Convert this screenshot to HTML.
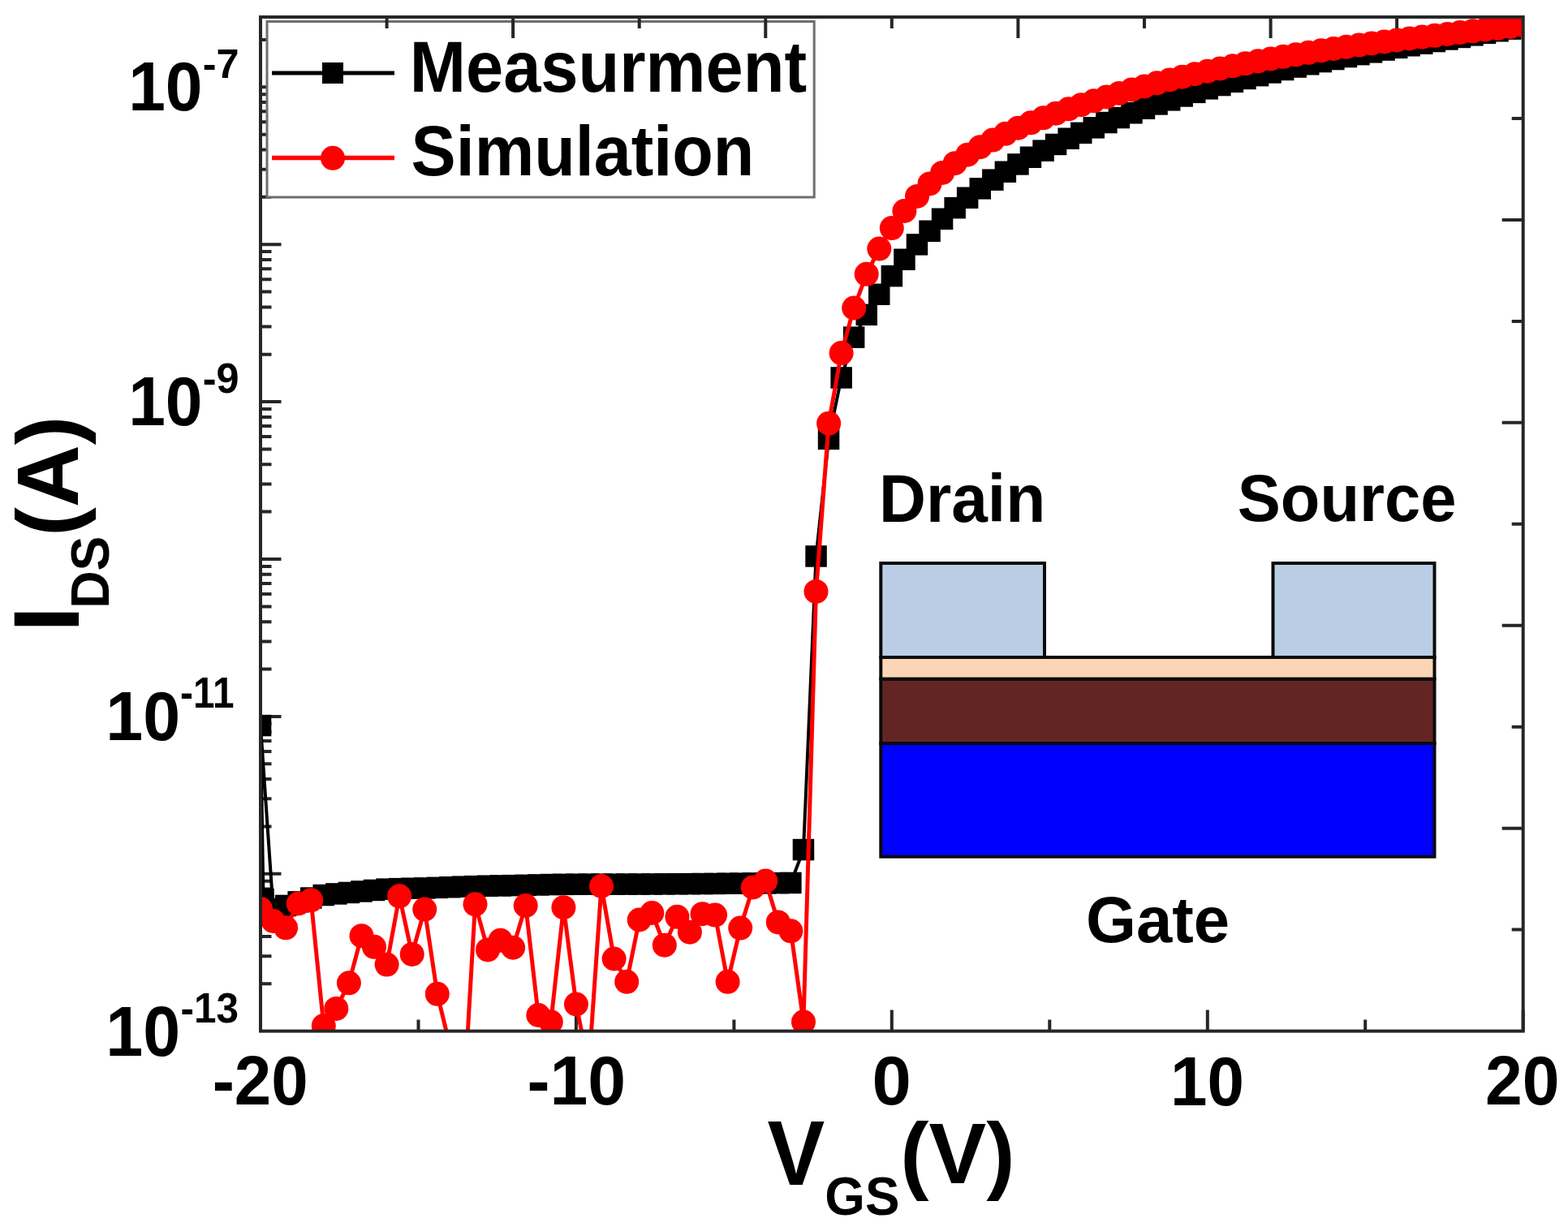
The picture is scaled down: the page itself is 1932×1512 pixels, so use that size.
<!DOCTYPE html>
<html><head><meta charset="utf-8"><title>IDS-VGS transfer characteristics</title>
<style>html,body{margin:0;padding:0;background:#fff;}svg{display:block;}</style></head>
<body>
<svg width="1932" height="1512" viewBox="0 0 1932 1512">
<rect width="1932" height="1512" fill="#fff"/>
<defs><clipPath id="pc"><rect x="321.0" y="21.0" width="1555.7" height="1249.6"/></clipPath></defs>
<path d="M321.0 1270.6V1244.6 M515.5 1270.6V1256.6 M709.9 1270.6V1244.6 M904.4 1270.6V1256.6 M1098.8 1270.6V1244.6 M1293.3 1270.6V1256.6 M1487.8 1270.6V1244.6 M1682.2 1270.6V1256.6 M1876.7 1270.6V1244.6 M321.0 1212.3H334.5 M321.0 1178.2H334.5 M321.0 1154.0H334.5 M321.0 1135.2H334.5 M321.0 1119.8H334.5 M321.0 1106.8H334.5 M321.0 1095.6H334.5 M321.0 1085.7H334.5 M321.0 1076.8H346.5 M321.0 1018.4H334.5 M321.0 984.3H334.5 M321.0 960.1H334.5 M321.0 941.3H334.5 M321.0 925.9H334.5 M321.0 912.9H334.5 M321.0 901.7H334.5 M321.0 891.8H334.5 M321.0 882.9H346.5 M321.0 824.5H334.5 M321.0 790.4H334.5 M321.0 766.2H334.5 M321.0 747.4H334.5 M321.0 732.0H334.5 M321.0 719.0H334.5 M321.0 707.8H334.5 M321.0 697.9H334.5 M321.0 689.0H346.5 M321.0 630.6H334.5 M321.0 596.5H334.5 M321.0 572.3H334.5 M321.0 553.5H334.5 M321.0 538.1H334.5 M321.0 525.1H334.5 M321.0 513.9H334.5 M321.0 504.0H334.5 M321.0 495.1H346.5 M321.0 436.7H334.5 M321.0 402.6H334.5 M321.0 378.4H334.5 M321.0 359.6H334.5 M321.0 344.2H334.5 M321.0 331.2H334.5 M321.0 320.0H334.5 M321.0 310.1H334.5 M321.0 301.2H346.5 M321.0 242.8H334.5 M321.0 208.7H334.5 M321.0 184.5H334.5 M321.0 165.7H334.5 M321.0 150.3H334.5 M321.0 137.3H334.5 M321.0 126.1H334.5 M321.0 116.2H334.5 M321.0 107.3H346.5 M321.0 48.9H334.5" stroke="#262626" stroke-width="4" fill="none"/>
<g clip-path="url(#pc)">
<polyline points="324.5,1108.0 321.0,894.0 336.6,1120.0 352.1,1116.0 367.7,1111.3 383.2,1106.6 398.8,1103.0 414.3,1101.5 429.9,1100.0 445.5,1098.5 461.0,1096.9 476.6,1095.7 492.1,1095.1 507.7,1094.8 523.2,1094.4 538.8,1093.8 554.4,1093.2 569.9,1092.6 585.5,1092.2 601.0,1091.8 616.6,1091.5 632.1,1091.2 647.7,1090.8 663.3,1090.4 678.8,1090.1 694.4,1089.8 709.9,1089.8 725.5,1089.7 741.0,1089.7 756.6,1089.6 772.2,1089.6 787.7,1089.5 803.3,1089.5 818.8,1089.4 834.4,1089.3 849.9,1089.2 865.5,1089.0 881.1,1088.9 896.6,1088.8 912.2,1088.6 927.7,1088.5 943.3,1088.3 958.8,1088.2 974.4,1088.0 990.0,1047.0 1005.5,685.5 1021.1,540.9 1036.6,465.5 1052.2,415.6 1067.7,387.9 1083.3,362.8 1098.8,340.1 1114.4,319.7 1130.0,301.3 1145.5,284.7 1161.1,269.7 1176.6,256.1 1192.2,243.7 1207.7,232.3 1223.3,221.7 1238.9,211.7 1254.4,202.4 1270.0,193.7 1285.5,185.6 1301.1,177.9 1316.6,170.7 1332.2,163.9 1347.8,157.3 1363.3,151.0 1378.9,145.0 1394.4,139.3 1410.0,133.7 1425.5,128.4 1441.1,123.3 1456.7,118.5 1472.2,113.8 1487.8,109.3 1503.3,105.0 1518.9,100.9 1534.4,96.9 1550.0,93.1 1565.6,89.5 1581.1,85.9 1596.7,82.5 1612.2,79.3 1627.8,76.1 1643.3,73.0 1658.9,70.1 1674.5,67.2 1690.0,64.3 1705.6,61.6 1721.1,58.9 1736.7,56.2 1752.2,53.6 1767.8,51.1 1783.4,48.5 1798.9,45.9 1814.5,43.4 1830.0,40.8 1845.6,38.3 1861.1,35.7 1876.7,33.0" fill="none" stroke="#000" stroke-width="4" stroke-linejoin="round"/>
<g fill="#000"><rect x="311.2" y="1094.8" width="26.5" height="26.5"/><rect x="307.8" y="880.8" width="26.5" height="26.5"/><rect x="323.3" y="1106.8" width="26.5" height="26.5"/><rect x="338.9" y="1102.7" width="26.5" height="26.5"/><rect x="354.4" y="1098.1" width="26.5" height="26.5"/><rect x="370.0" y="1093.3" width="26.5" height="26.5"/><rect x="385.5" y="1089.8" width="26.5" height="26.5"/><rect x="401.1" y="1088.2" width="26.5" height="26.5"/><rect x="416.6" y="1086.7" width="26.5" height="26.5"/><rect x="432.2" y="1085.2" width="26.5" height="26.5"/><rect x="447.8" y="1083.7" width="26.5" height="26.5"/><rect x="463.3" y="1082.4" width="26.5" height="26.5"/><rect x="478.9" y="1081.9" width="26.5" height="26.5"/><rect x="494.4" y="1081.5" width="26.5" height="26.5"/><rect x="510.0" y="1081.2" width="26.5" height="26.5"/><rect x="525.5" y="1080.6" width="26.5" height="26.5"/><rect x="541.1" y="1080.0" width="26.5" height="26.5"/><rect x="556.7" y="1079.4" width="26.5" height="26.5"/><rect x="572.2" y="1078.9" width="26.5" height="26.5"/><rect x="587.8" y="1078.5" width="26.5" height="26.5"/><rect x="603.3" y="1078.2" width="26.5" height="26.5"/><rect x="618.9" y="1077.9" width="26.5" height="26.5"/><rect x="634.4" y="1077.6" width="26.5" height="26.5"/><rect x="650.0" y="1077.2" width="26.5" height="26.5"/><rect x="665.6" y="1076.8" width="26.5" height="26.5"/><rect x="681.1" y="1076.6" width="26.5" height="26.5"/><rect x="696.7" y="1076.5" width="26.5" height="26.5"/><rect x="712.2" y="1076.4" width="26.5" height="26.5"/><rect x="727.8" y="1076.4" width="26.5" height="26.5"/><rect x="743.3" y="1076.4" width="26.5" height="26.5"/><rect x="758.9" y="1076.3" width="26.5" height="26.5"/><rect x="774.5" y="1076.3" width="26.5" height="26.5"/><rect x="790.0" y="1076.2" width="26.5" height="26.5"/><rect x="805.6" y="1076.1" width="26.5" height="26.5"/><rect x="821.1" y="1076.0" width="26.5" height="26.5"/><rect x="836.7" y="1075.9" width="26.5" height="26.5"/><rect x="852.2" y="1075.8" width="26.5" height="26.5"/><rect x="867.8" y="1075.7" width="26.5" height="26.5"/><rect x="883.4" y="1075.5" width="26.5" height="26.5"/><rect x="898.9" y="1075.4" width="26.5" height="26.5"/><rect x="914.5" y="1075.2" width="26.5" height="26.5"/><rect x="930.0" y="1075.1" width="26.5" height="26.5"/><rect x="945.6" y="1074.9" width="26.5" height="26.5"/><rect x="961.1" y="1074.7" width="26.5" height="26.5"/><rect x="976.7" y="1033.8" width="26.5" height="26.5"/><rect x="992.3" y="672.2" width="26.5" height="26.5"/><rect x="1007.8" y="527.6" width="26.5" height="26.5"/><rect x="1023.4" y="452.2" width="26.5" height="26.5"/><rect x="1038.9" y="402.4" width="26.5" height="26.5"/><rect x="1054.5" y="374.6" width="26.5" height="26.5"/><rect x="1070.0" y="349.5" width="26.5" height="26.5"/><rect x="1085.6" y="326.9" width="26.5" height="26.5"/><rect x="1101.2" y="306.5" width="26.5" height="26.5"/><rect x="1116.7" y="288.1" width="26.5" height="26.5"/><rect x="1132.3" y="271.5" width="26.5" height="26.5"/><rect x="1147.8" y="256.5" width="26.5" height="26.5"/><rect x="1163.4" y="242.9" width="26.5" height="26.5"/><rect x="1178.9" y="230.5" width="26.5" height="26.5"/><rect x="1194.5" y="219.1" width="26.5" height="26.5"/><rect x="1210.1" y="208.4" width="26.5" height="26.5"/><rect x="1225.6" y="198.5" width="26.5" height="26.5"/><rect x="1241.2" y="189.2" width="26.5" height="26.5"/><rect x="1256.7" y="180.5" width="26.5" height="26.5"/><rect x="1272.3" y="172.4" width="26.5" height="26.5"/><rect x="1287.8" y="164.7" width="26.5" height="26.5"/><rect x="1303.4" y="157.5" width="26.5" height="26.5"/><rect x="1319.0" y="150.6" width="26.5" height="26.5"/><rect x="1334.5" y="144.1" width="26.5" height="26.5"/><rect x="1350.1" y="137.8" width="26.5" height="26.5"/><rect x="1365.6" y="131.8" width="26.5" height="26.5"/><rect x="1381.2" y="126.0" width="26.5" height="26.5"/><rect x="1396.7" y="120.5" width="26.5" height="26.5"/><rect x="1412.3" y="115.2" width="26.5" height="26.5"/><rect x="1427.9" y="110.1" width="26.5" height="26.5"/><rect x="1443.4" y="105.2" width="26.5" height="26.5"/><rect x="1459.0" y="100.6" width="26.5" height="26.5"/><rect x="1474.5" y="96.1" width="26.5" height="26.5"/><rect x="1490.1" y="91.8" width="26.5" height="26.5"/><rect x="1505.6" y="87.6" width="26.5" height="26.5"/><rect x="1521.2" y="83.7" width="26.5" height="26.5"/><rect x="1536.8" y="79.9" width="26.5" height="26.5"/><rect x="1552.3" y="76.2" width="26.5" height="26.5"/><rect x="1567.9" y="72.7" width="26.5" height="26.5"/><rect x="1583.4" y="69.3" width="26.5" height="26.5"/><rect x="1599.0" y="66.0" width="26.5" height="26.5"/><rect x="1614.5" y="62.8" width="26.5" height="26.5"/><rect x="1630.1" y="59.8" width="26.5" height="26.5"/><rect x="1645.7" y="56.8" width="26.5" height="26.5"/><rect x="1661.2" y="53.9" width="26.5" height="26.5"/><rect x="1676.8" y="51.1" width="26.5" height="26.5"/><rect x="1692.3" y="48.3" width="26.5" height="26.5"/><rect x="1707.9" y="45.6" width="26.5" height="26.5"/><rect x="1723.4" y="43.0" width="26.5" height="26.5"/><rect x="1739.0" y="40.4" width="26.5" height="26.5"/><rect x="1754.6" y="37.8" width="26.5" height="26.5"/><rect x="1770.1" y="35.2" width="26.5" height="26.5"/><rect x="1785.7" y="32.7" width="26.5" height="26.5"/><rect x="1801.2" y="30.1" width="26.5" height="26.5"/><rect x="1816.8" y="27.6" width="26.5" height="26.5"/><rect x="1832.3" y="25.0" width="26.5" height="26.5"/><rect x="1847.9" y="22.4" width="26.5" height="26.5"/><rect x="1863.5" y="19.8" width="26.5" height="26.5"/></g>
<polyline points="321.0,1120.0 336.6,1135.0 352.1,1143.3 367.7,1113.5 383.2,1109.3 398.8,1264.0 414.3,1242.9 429.9,1211.3 445.5,1153.2 461.0,1166.8 476.6,1188.6 492.1,1104.3 507.7,1175.9 523.2,1120.6 538.8,1224.8 554.4,1289.0 569.9,1382.0 585.5,1114.3 601.0,1170.4 616.6,1158.7 632.1,1167.7 647.7,1116.0 663.3,1251.0 678.8,1259.3 694.4,1118.2 709.9,1237.5 725.5,1315.0 741.0,1092.0 756.6,1181.5 772.2,1209.8 787.7,1133.5 803.3,1125.0 818.8,1164.7 834.4,1129.8 849.9,1148.7 865.5,1126.2 881.1,1127.6 896.6,1209.8 912.2,1143.6 927.7,1093.5 943.3,1085.5 958.8,1136.4 974.4,1147.3 990.0,1259.3 1005.5,728.9 1021.1,521.7 1036.6,435.1 1052.2,379.5 1067.7,337.8 1083.3,306.6 1098.8,281.1 1114.4,260.0 1130.0,241.9 1145.5,226.4 1161.1,212.9 1176.6,201.2 1192.2,190.7 1207.7,181.2 1223.3,172.6 1238.9,164.8 1254.4,157.7 1270.0,151.3 1285.5,145.3 1301.1,139.7 1316.6,134.3 1332.2,129.2 1347.8,124.3 1363.3,119.5 1378.9,115.0 1394.4,110.6 1410.0,106.4 1425.5,102.3 1441.1,98.5 1456.7,94.7 1472.2,91.2 1487.8,87.7 1503.3,84.5 1518.9,81.3 1534.4,78.3 1550.0,75.3 1565.6,72.5 1581.1,69.8 1596.7,67.3 1612.2,64.8 1627.8,62.3 1643.3,60.0 1658.9,57.8 1674.5,55.6 1690.0,53.5 1705.6,51.5 1721.1,49.5 1736.7,47.5 1752.2,45.6 1767.8,43.8 1783.4,41.9 1798.9,40.1 1814.5,38.3 1830.0,36.5 1845.6,34.8 1861.1,33.0 1876.7,31.2" fill="none" stroke="#ff0000" stroke-width="5" stroke-linejoin="round"/>
<g fill="#ff0000"><circle cx="321.0" cy="1120.0" r="15.0"/><circle cx="336.6" cy="1135.0" r="15.0"/><circle cx="352.1" cy="1143.3" r="15.0"/><circle cx="367.7" cy="1113.5" r="15.0"/><circle cx="383.2" cy="1109.3" r="15.0"/><circle cx="398.8" cy="1264.0" r="15.0"/><circle cx="414.3" cy="1242.9" r="15.0"/><circle cx="429.9" cy="1211.3" r="15.0"/><circle cx="445.5" cy="1153.2" r="15.0"/><circle cx="461.0" cy="1166.8" r="15.0"/><circle cx="476.6" cy="1188.6" r="15.0"/><circle cx="492.1" cy="1104.3" r="15.0"/><circle cx="507.7" cy="1175.9" r="15.0"/><circle cx="523.2" cy="1120.6" r="15.0"/><circle cx="538.8" cy="1224.8" r="15.0"/><circle cx="554.4" cy="1289.0" r="15.0"/><circle cx="569.9" cy="1382.0" r="15.0"/><circle cx="585.5" cy="1114.3" r="15.0"/><circle cx="601.0" cy="1170.4" r="15.0"/><circle cx="616.6" cy="1158.7" r="15.0"/><circle cx="632.1" cy="1167.7" r="15.0"/><circle cx="647.7" cy="1116.0" r="15.0"/><circle cx="663.3" cy="1251.0" r="15.0"/><circle cx="678.8" cy="1259.3" r="15.0"/><circle cx="694.4" cy="1118.2" r="15.0"/><circle cx="709.9" cy="1237.5" r="15.0"/><circle cx="725.5" cy="1315.0" r="15.0"/><circle cx="741.0" cy="1092.0" r="15.0"/><circle cx="756.6" cy="1181.5" r="15.0"/><circle cx="772.2" cy="1209.8" r="15.0"/><circle cx="787.7" cy="1133.5" r="15.0"/><circle cx="803.3" cy="1125.0" r="15.0"/><circle cx="818.8" cy="1164.7" r="15.0"/><circle cx="834.4" cy="1129.8" r="15.0"/><circle cx="849.9" cy="1148.7" r="15.0"/><circle cx="865.5" cy="1126.2" r="15.0"/><circle cx="881.1" cy="1127.6" r="15.0"/><circle cx="896.6" cy="1209.8" r="15.0"/><circle cx="912.2" cy="1143.6" r="15.0"/><circle cx="927.7" cy="1093.5" r="15.0"/><circle cx="943.3" cy="1085.5" r="15.0"/><circle cx="958.8" cy="1136.4" r="15.0"/><circle cx="974.4" cy="1147.3" r="15.0"/><circle cx="990.0" cy="1259.3" r="15.0"/><circle cx="1005.5" cy="728.9" r="15.0"/><circle cx="1021.1" cy="521.7" r="15.0"/><circle cx="1036.6" cy="435.1" r="15.0"/><circle cx="1052.2" cy="379.5" r="15.0"/><circle cx="1067.7" cy="337.8" r="15.0"/><circle cx="1083.3" cy="306.6" r="15.0"/><circle cx="1098.8" cy="281.1" r="15.0"/><circle cx="1114.4" cy="260.0" r="15.0"/><circle cx="1130.0" cy="241.9" r="15.0"/><circle cx="1145.5" cy="226.4" r="15.0"/><circle cx="1161.1" cy="212.9" r="15.0"/><circle cx="1176.6" cy="201.2" r="15.0"/><circle cx="1192.2" cy="190.7" r="15.0"/><circle cx="1207.7" cy="181.2" r="15.0"/><circle cx="1223.3" cy="172.6" r="15.0"/><circle cx="1238.9" cy="164.8" r="15.0"/><circle cx="1254.4" cy="157.7" r="15.0"/><circle cx="1270.0" cy="151.3" r="15.0"/><circle cx="1285.5" cy="145.3" r="15.0"/><circle cx="1301.1" cy="139.7" r="15.0"/><circle cx="1316.6" cy="134.3" r="15.0"/><circle cx="1332.2" cy="129.2" r="15.0"/><circle cx="1347.8" cy="124.3" r="15.0"/><circle cx="1363.3" cy="119.5" r="15.0"/><circle cx="1378.9" cy="115.0" r="15.0"/><circle cx="1394.4" cy="110.6" r="15.0"/><circle cx="1410.0" cy="106.4" r="15.0"/><circle cx="1425.5" cy="102.3" r="15.0"/><circle cx="1441.1" cy="98.5" r="15.0"/><circle cx="1456.7" cy="94.7" r="15.0"/><circle cx="1472.2" cy="91.2" r="15.0"/><circle cx="1487.8" cy="87.7" r="15.0"/><circle cx="1503.3" cy="84.5" r="15.0"/><circle cx="1518.9" cy="81.3" r="15.0"/><circle cx="1534.4" cy="78.3" r="15.0"/><circle cx="1550.0" cy="75.3" r="15.0"/><circle cx="1565.6" cy="72.5" r="15.0"/><circle cx="1581.1" cy="69.8" r="15.0"/><circle cx="1596.7" cy="67.3" r="15.0"/><circle cx="1612.2" cy="64.8" r="15.0"/><circle cx="1627.8" cy="62.3" r="15.0"/><circle cx="1643.3" cy="60.0" r="15.0"/><circle cx="1658.9" cy="57.8" r="15.0"/><circle cx="1674.5" cy="55.6" r="15.0"/><circle cx="1690.0" cy="53.5" r="15.0"/><circle cx="1705.6" cy="51.5" r="15.0"/><circle cx="1721.1" cy="49.5" r="15.0"/><circle cx="1736.7" cy="47.5" r="15.0"/><circle cx="1752.2" cy="45.6" r="15.0"/><circle cx="1767.8" cy="43.8" r="15.0"/><circle cx="1783.4" cy="41.9" r="15.0"/><circle cx="1798.9" cy="40.1" r="15.0"/><circle cx="1814.5" cy="38.3" r="15.0"/><circle cx="1830.0" cy="36.5" r="15.0"/><circle cx="1845.6" cy="34.8" r="15.0"/><circle cx="1861.1" cy="33.0" r="15.0"/><circle cx="1876.7" cy="31.2" r="15.0"/></g>
</g>
<rect x="329" y="26.5" width="674.2" height="216.5" fill="#fff" stroke="#6e6e6e" stroke-width="3"/>
<path d="M335 90H486" stroke="#000" stroke-width="5"/>
<rect x="397" y="77" width="26" height="26" fill="#000"/>
<path d="M335 194.5H486" stroke="#ff0000" stroke-width="5.5"/>
<circle cx="410" cy="194.8" r="15" fill="#ff0000"/>
<path d="M476.6 21.0V35.0 M632.1 21.0V47.0 M787.7 21.0V35.0 M943.3 21.0V47.0 M1098.8 21.0V35.0 M1254.4 21.0V47.0 M1410.0 21.0V35.0 M1565.6 21.0V47.0 M1721.1 21.0V35.0 M1876.7 146.0H1862.7 M1876.7 270.9H1850.7 M1876.7 395.9H1862.7 M1876.7 520.8H1850.7 M1876.7 645.8H1862.7 M1876.7 770.8H1850.7 M1876.7 895.7H1862.7 M1876.7 1020.7H1850.7 M1876.7 1145.6H1862.7" stroke="#262626" stroke-width="4" fill="none"/>
<rect x="321.0" y="21.0" width="1555.7" height="1249.6" fill="none" stroke="#262626" stroke-width="4"/>
<g stroke="#0a0a0a" stroke-width="4" stroke-linejoin="miter">
<rect x="1085.3" y="916" width="682.2" height="139.7" fill="#0000ff"/>
<rect x="1085.3" y="836.6" width="682.2" height="79.4" fill="#632523"/>
<rect x="1085.3" y="810" width="682.2" height="26.6" fill="#fbd5b5"/>
<rect x="1085.3" y="694" width="201.7" height="116" fill="#b9cde5"/>
<rect x="1568.5" y="694" width="199.0" height="116" fill="#b9cde5"/>
</g>
<g font-family="'Liberation Sans', sans-serif" font-weight="bold" font-size="100" fill="#000">
<text transform="matrix(0.8208 0 0 0.8538 158.17 135.70)">10</text>
<text transform="matrix(0.5043 0 0 0.5018 249.78 95.70)">-7</text>
<text transform="matrix(0.8208 0 0 0.8538 158.17 523.90)">10</text>
<text transform="matrix(0.5046 0 0 0.5201 249.78 484.18)">-9</text>
<text transform="matrix(0.8257 0 0 0.8582 130.34 912.10)">10</text>
<text transform="matrix(0.4779 0 0 0.5353 222.09 872.30)">-11</text>
<text transform="matrix(0.8257 0 0 0.8669 130.34 1300.60)">10</text>
<text transform="matrix(0.4949 0 0 0.5117 222.62 1260.19)">-13</text>
<text transform="matrix(0.8168 0 0 0.8452 261.63 1361.45)">-20</text>
<text transform="matrix(0.8418 0 0 0.8452 649.43 1361.45)">-10</text>
<text transform="matrix(0.8695 0 0 0.8452 1074.52 1361.45)">0</text>
<text transform="matrix(0.8178 0 0 0.8582 1442.09 1361.70)">10</text>
<text transform="matrix(0.8231 0 0 0.8452 1829.92 1361.45)">20</text>
<text transform="matrix(1.0605 0 0 1.1302 945.40 1459.70)">V</text>
<text transform="matrix(0.6381 0 0 0.6756 1016.25 1496.52)">GS</text>
<text transform="matrix(1.0596 0 0 1.0627 1109.20 1458.15)">(V)</text>
<text transform="matrix(0 -1.1439 1.1447 0 96.90 779.12)">I</text>
<text transform="matrix(0 -0.6433 0.6643 0 133.64 749.84)">DS</text>
<text transform="matrix(0 -1.0656 1.0702 0 95.79 660.73)">(A)</text>
<text transform="matrix(0.8306 0 0 0.8858 504.79 112.50)">Measurment</text>
<text transform="matrix(0.8275 0 0 0.8777 506.52 216.42)">Simulation</text>
<text transform="matrix(0.8025 0 0 0.8276 1083.08 642.90)">Drain</text>
<text transform="matrix(0.7961 0 0 0.8127 1524.71 642.19)">Source</text>
<text transform="matrix(0.7963 0 0 0.7901 1338.01 1160.91)">Gate</text>
</g>
</svg>
</body></html>
